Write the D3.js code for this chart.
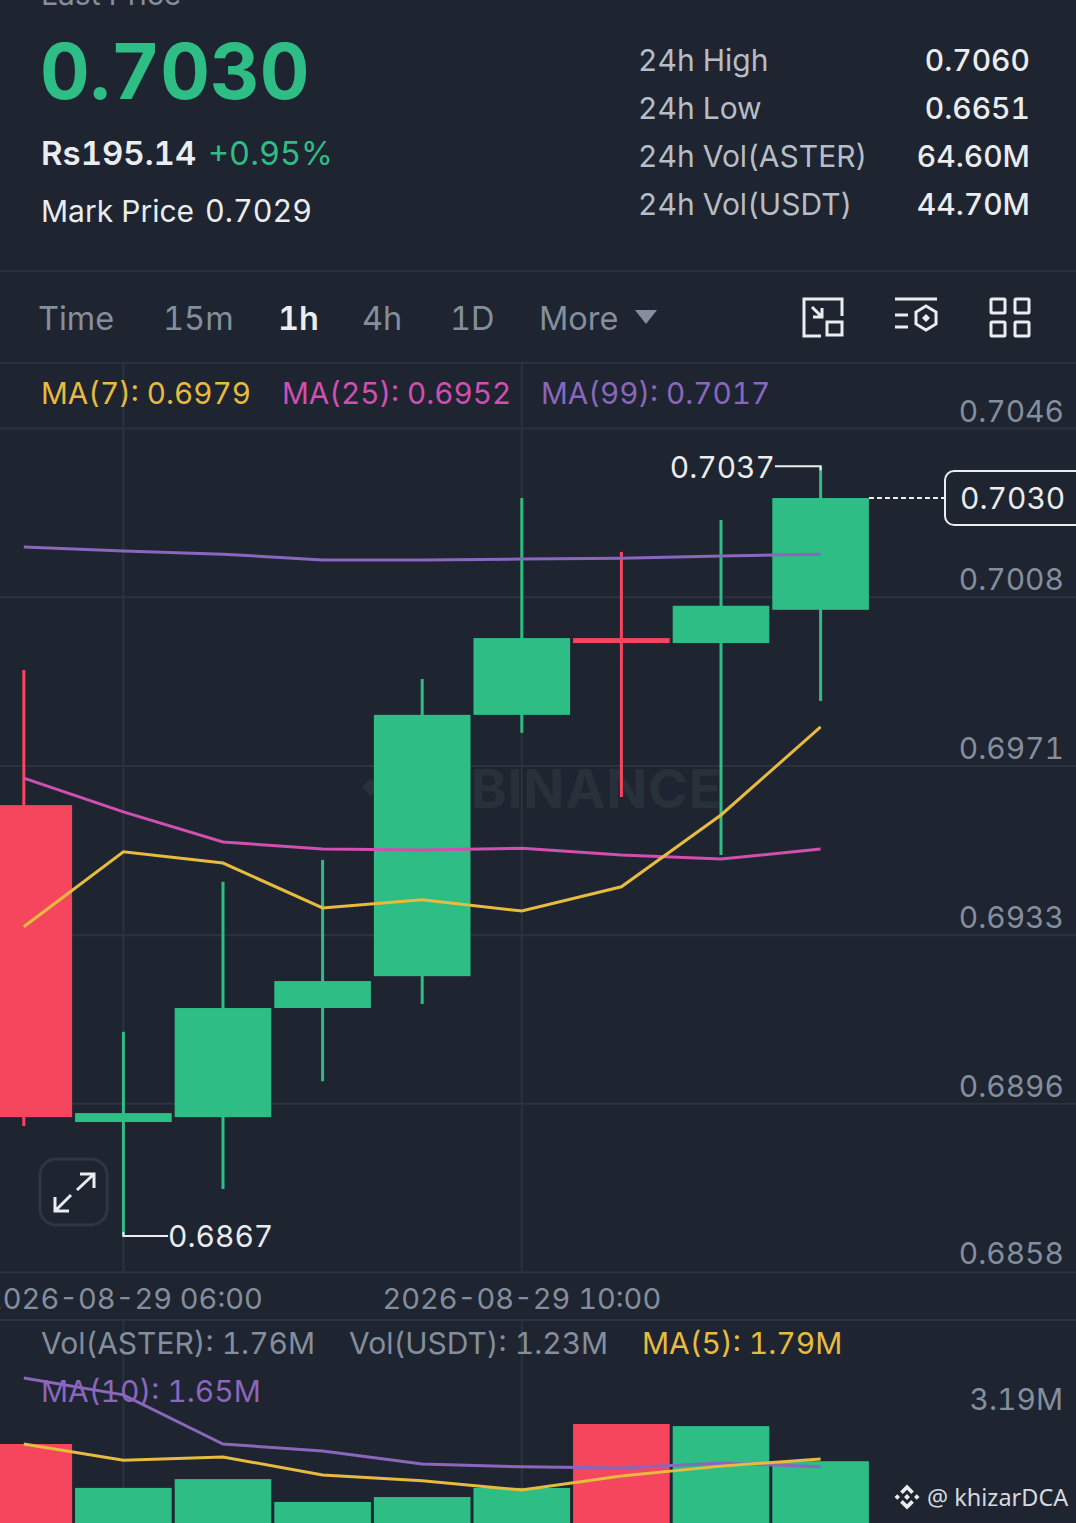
<!DOCTYPE html>
<html>
<head>
<meta charset="utf-8">
<script src="https://cdn.jsdelivr.net/npm/d3@7"></script>
<style>
  html, body { margin: 0; padding: 0; background: #1e2530; overflow: hidden; }
  svg { display: block; }
  text { font-family: Inter, "Noto Sans", sans-serif; font-variant-numeric: tabular-nums; }
</style>
</head>
<body>
<div id="chart"></div>
<script>
// candle data
const hours = ["05:00", "06:00", "07:00", "08:00", "09:00", "10:00", "11:00", "12:00", "13:00"];
const opens = [0.69620, 0.68914, 0.68925, 0.69168, 0.69239, 0.69821, 0.69992, 0.69981, 0.70055];
const highs = [0.69921, 0.69115, 0.69449, 0.69498, 0.69901, 0.70304, 0.70184, 0.70255, 0.70375];
const lows = [0.68905, 0.68660, 0.68765, 0.69005, 0.69177, 0.69781, 0.69638, 0.69509, 0.69852];
const closes = [0.68925, 0.68934, 0.69168, 0.69228, 0.69821, 0.69992, 0.69981, 0.70064, 0.70304];
const ma7 = [0.69349, 0.69516, 0.69491, 0.69391, 0.69409, 0.69384, 0.69438, 0.69598, 0.69794];
const ma25 = [0.69680, 0.69605, 0.69538, 0.69522, 0.69520, 0.69524, 0.69509, 0.69500, 0.69522];
const ma99 = [0.70195, 0.70186, 0.70179, 0.70166, 0.70166, 0.70168, 0.70170, 0.70175, 0.70179];
const priceTicks = [0.7046, 0.70084, 0.69708, 0.69331, 0.68956, 0.6858];
const timeTicks = ["06:00", "10:00"];
const tradeDate = "2026-08-29";

// volume data, in millions
const volumes = [2.25, 1.0, 1.25, 0.6, 0.74, 1.0, 2.82, 2.76, 1.76];
const volMa5 = [2.25, 1.79, 1.88, 1.37, 1.2, 0.94, 1.34, 1.62, 1.82];
const volMa10 = [4.13, 3.65, 2.25, 2.05, 1.68, 1.6, 1.57, 1.71, 1.6];
const volTop = 3.19;

// header numbers
const lastPrice = 0.7030;
const stats = [
  ["24h High", "0.7060"],
  ["24h Low", "0.6651"],
  ["24h Vol(ASTER)", "64.60M"],
  ["24h Vol(USDT)", "44.70M"],
];
const tabs = [["Time", 38], ["15m", 163], ["1h", 278], ["4h", 362], ["1D", 450], ["More", 539]];

const w = 1076,
  h = 1523;
const bg = "#1e2530",
  gridColor = "#2c333e",
  up = "#2ebd85",
  down = "#f6465d",
  muted = "#848e9c",
  yellow = "#e6bb3f",
  pink = "#d04fb0",
  purple = "#8a66bc";

const svg = d3.select("#chart").append("svg").attr("width", w).attr("height", h);
svg.append("rect").attr("width", w).attr("height", h).attr("fill", bg);

const text = (x, y, str, size, fill, weight = 400, anchor = "start") =>
  svg
    .append("text")
    .attr("x", x)
    .attr("y", y)
    .attr("font-size", size)
    .attr("font-weight", weight)
    .attr("fill", fill)
    .attr("text-anchor", anchor)
    .text(str);

const hline = (y, x1 = 0, x2 = w) =>
  svg.append("line").attr("x1", x1).attr("x2", x2).attr("y1", y).attr("y2", y)
    .attr("stroke", gridColor).attr("stroke-width", 2);

const x = d3.scaleBand().domain(hours).range([-26, 870.4]).paddingInner(0.03).paddingOuter(0.015);
const cx = (d) => x(d) + x.bandwidth() / 2;
const y = d3.scaleLinear().domain([0.7046, 0.6858]).range([428, 1272]);
const yVol = d3.scaleLinear().domain([0, volTop]).range([1523, 1411]);

// binance mark
const logoPath =
  "M12 2L17.5 7.5L15.4 9.6L12 6.2L8.6 9.6L6.5 7.5Z M12 22L6.5 16.5L8.6 14.4L12 17.8L15.4 14.4L17.5 16.5Z " +
  "M12 9.6L14.4 12L12 14.4L9.6 12Z M2 12L4.2 9.8L6.4 12L4.2 14.2Z M22 12L19.8 9.8L17.6 12L19.8 14.2Z";
const logo = (lx, ly, size, fill) =>
  svg.append("path").attr("d", logoPath).attr("fill", fill)
    .attr("transform", `translate(${lx - size / 2}, ${ly - size / 2}) scale(${size / 24})`);

// header
text(41, 5, "Last Price", 30, muted);
text(40, 99, d3.format(".4f")(lastPrice), 77, up, 700);
text(41, 165, "Rs195.14", 33, "#eaecef", 600);
text(208, 165, "+0.95%", 32.5, up);
text(41, 222, "Mark Price", 30, "#eaecef");
text(205, 222, "0.7029", 30.5, "#eaecef");

stats.forEach((s, i) => {
  text(638, 71 + i * 48, s[0], 30, "#b7bdc6");
  text(1030, 71 + i * 48, s[1], 30, "#eaecef", 500, "end");
});

hline(271);
hline(363);

// tab bar
tabs.forEach((t) => {
  const on = t[0] === "1h";
  text(t[1], 330, t[0], 32.5, on ? "#eaecef" : muted, on ? 600 : 400);
});
svg.append("path").attr("d", "M635 310H657L646 324Z").attr("fill", muted);

const icons = svg.append("g").attr("fill", "none").attr("stroke", "#eaecef").attr("stroke-width", 3);
icons.append("path").attr("d", "M821 336H804V299H842V316");
icons.append("rect").attr("x", 827).attr("y", 322).attr("width", 15).attr("height", 13);
icons.append("path").attr("d", "M812 307L822 317M822 308V317H813");
icons.append("path").attr("d", "M895 299H937M895 315H908M895 327H908");
icons.append("path").attr("d", "M926 306L936 312V324L926 330L916 324V312Z");
icons.append("path").attr("d", "M926 314L930 318L926 322L922 318Z").attr("fill", "#eaecef").attr("stroke", "none");
[[991, 299], [1015, 299], [991, 322], [1015, 322]].forEach((p) =>
  icons.append("rect").attr("x", p[0]).attr("y", p[1]).attr("width", 14).attr("height", 14).attr("rx", 1));

// watermark sits under everything in the plot
logo(402, 787, 96, "#283039");
text(471, 808, "BINANCE", 54, "#283039", 700).attr("letter-spacing", 0.7);

// vertical grid for both panes
timeTicks.forEach((t) => {
  svg.append("line").attr("x1", cx(t)).attr("x2", cx(t)).attr("y1", 363).attr("y2", 1272)
    .attr("stroke", gridColor).attr("stroke-width", 2);
  svg.append("line").attr("x1", cx(t)).attr("x2", cx(t)).attr("y1", 1320).attr("y2", h)
    .attr("stroke", gridColor).attr("stroke-width", 2);
});

// price axis
const yAxis = d3.axisRight(y).tickValues(priceTicks).tickSize(w).tickFormat(d3.format(".4f"));
const yG = svg.append("g").call(yAxis);
yG.select(".domain").remove();
yG.selectAll("line").attr("stroke", gridColor).attr("stroke-width", 2);
yG.selectAll("text")
  .attr("x", 1064)
  .attr("dy", (d, i) => (i === priceTicks.length - 1 ? -9 : -7))
  .attr("text-anchor", "end")
  .attr("font-size", 30)
  .attr("fill", muted);

// time axis
const xAxis = d3.axisBottom(x).tickValues(timeTicks).tickSize(0).tickFormat((d) => tradeDate + " " + d);
const xG = svg.append("g").attr("transform", "translate(0, 1272)").call(xAxis);
xG.select(".domain").remove();
xG.selectAll("text")
  .attr("y", 37)
  .attr("dy", 0)
  .attr("font-size", 29)
  .attr("fill", muted);
hline(1320);

// candles
const candles = hours.map((t, i) => ({ t, o: opens[i], h: highs[i], l: lows[i], c: closes[i] }));
const col = (d) => (d.c >= d.o ? up : down);
svg.selectAll(".wick").data(candles).enter().append("line").attr("class", "wick")
  .attr("x1", (d) => cx(d.t)).attr("x2", (d) => cx(d.t))
  .attr("y1", (d) => y(d.h)).attr("y2", (d) => y(d.l))
  .attr("stroke", col).attr("stroke-width", 3);
svg.selectAll(".body").data(candles).enter().append("rect").attr("class", "body")
  .attr("x", (d) => x(d.t)).attr("width", x.bandwidth())
  .attr("y", (d) => y(Math.max(d.o, d.c)))
  .attr("height", (d) => Math.abs(y(d.o) - y(d.c)))
  .attr("fill", col);

// moving averages
const drawLine = (vals, scale, color) =>
  svg.append("path")
    .datum(vals)
    .attr("fill", "none")
    .attr("stroke", color)
    .attr("stroke-width", 3)
    .attr("d", d3.line().x((d, i) => cx(hours[i])).y((d) => scale(d)));

drawLine(ma99, y, purple);
drawLine(ma25, y, pink);
drawLine(ma7, y, yellow);

// high and low callouts
const hiIdx = d3.maxIndex(highs),
  loIdx = d3.minIndex(lows);
const leader = (d) =>
  svg.append("path").attr("d", d).attr("fill", "none").attr("stroke", "#eaecef").attr("stroke-width", 2);
leader(`M${cx(hours[hiIdx])} ${y(highs[hiIdx]) + 4}V${y(highs[hiIdx])}H775`);
text(775, 478, "0.7037", 30, "#eaecef", 400, "end");
leader(`M${cx(hours[loIdx])} ${y(lows[loIdx]) - 4}V${y(lows[loIdx])}H168`);
text(168, 1247, "0.6867", 30, "#eaecef");

// last price tag
const tagY = y(closes[closes.length - 1]);
svg.append("line").attr("x1", 869).attr("x2", 945).attr("y1", tagY).attr("y2", tagY)
  .attr("stroke", "#eaecef").attr("stroke-width", 2).attr("stroke-dasharray", "5 3");
svg.append("rect").attr("x", 945).attr("y", tagY - 27).attr("width", 150).attr("height", 54).attr("rx", 9)
  .attr("fill", bg).attr("stroke", "#eaecef").attr("stroke-width", 2);
text(960, tagY + 11, d3.format(".4f")(lastPrice), 30, "#eaecef");

// legend row for the price pane
text(41, 404, "MA(7): 0.6979", 29.7, yellow);
text(282, 404, "MA(25): 0.6952", 29.7, pink);
text(541, 404, "MA(99): 0.7017", 29.7, purple);

// expand button
svg.append("rect").attr("x", 40).attr("y", 1159).attr("width", 67).attr("height", 66).attr("rx", 16)
  .attr("fill", bg).attr("stroke", "#2f3641").attr("stroke-width", 3);
svg.append("path")
  .attr("d", "M77 1190L94 1174M80 1174H94V1188M71 1195L55 1211M55 1197V1211H69")
  .attr("fill", "none").attr("stroke", "#eaecef").attr("stroke-width", 3);

// volume pane
svg.selectAll(".vol").data(volumes).enter().append("rect").attr("class", "vol")
  .attr("x", (d, i) => x(hours[i])).attr("width", x.bandwidth())
  .attr("y", (d) => yVol(d))
  .attr("height", (d) => yVol(0) - yVol(d))
  .attr("fill", (d, i) => col(candles[i]));
drawLine(volMa10, yVol, purple);
drawLine(volMa5, yVol, yellow);

text(41, 1354, "Vol(ASTER): 1.76M", 30, muted);
text(349, 1354, "Vol(USDT): 1.23M", 30, muted);
text(642, 1354, "MA(5): 1.79M", 30, yellow);
text(41, 1402, "MA(10): 1.65M", 30, purple);
text(1063, 1410, d3.format(".2f")(volTop) + "M", 30, muted, 400, "end");

// credit
logo(907, 1497, 30, "#eaecef");
text(927, 1506, "@ khizarDCA", 23.5, "#d5d9df").style("font-family", "'Noto Sans'");
</script>
</body>
</html>
